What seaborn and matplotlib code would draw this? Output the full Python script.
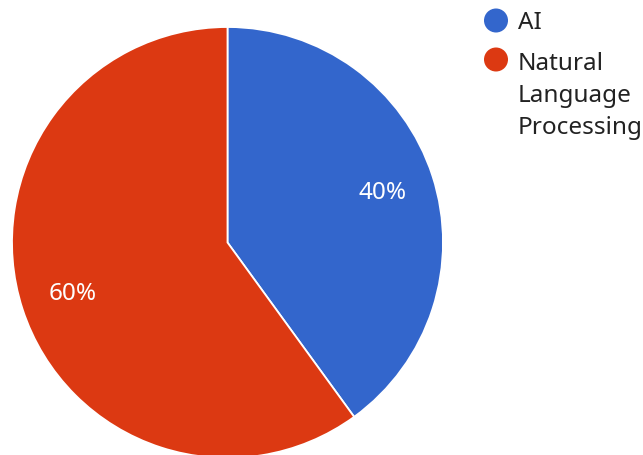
import matplotlib
matplotlib.use("Agg")
import matplotlib.pyplot as plt
from matplotlib.patches import Circle
import seaborn as sns

categories = ["AI", "Natural Language Processing"]
legend_lines = [["AI"], ["Natural", "Language", "Processing"]]
values = [40, 60]
colors = ["#3366CC", "#DC3912"]

sns.set_theme(style="white")
plt.rcParams["font.family"] = ["Noto Sans", "DejaVu Sans"]

W, H = 643, 456
fig = plt.figure(figsize=(W / 100, H / 100), dpi=100)
fig.patch.set_facecolor("white")

# pie axes: centre (227.5, 243.5) px, radius 215.5 px
cx, cy, r = 227.5, 243.5, 215.5
ax = fig.add_axes([(cx - r) / W, (H - (cy + r)) / H, 2 * r / W, 2 * r / H])
wedges, texts, autotexts = ax.pie(
    values,
    colors=sns.color_palette(colors),
    startangle=90,
    counterclock=False,
    autopct="%1.0f%%",
    pctdistance=0.757,
    radius=1.0,
    wedgeprops=dict(edgecolor="white", linewidth=1.3),
    textprops=dict(color="white", fontsize=17.5),
)
ax.set_xlim(-1, 1)
ax.set_ylim(-1, 1)
ax.set_aspect("auto")
ax.axis("off")

# legend overlay in pixel coordinates
ov = fig.add_axes([0, 0, 1, 1])
ov.set_xlim(0, W)
ov.set_ylim(H, 0)
ov.axis("off")
circ_y = [21.5, 60.5]
first_baseline = [29, 70]
line_gap = 32
for col, lines, cyy, bl in zip(colors, legend_lines, circ_y, first_baseline):
    ov.add_patch(Circle((496, cyy), 12, color=col, lw=0))
    for i, t in enumerate(lines):
        ov.text(518, bl + i * line_gap, t, fontsize=17.5, color="#222222",
                ha="left", va="baseline")

fig.savefig("out.png", dpi=100, facecolor="white")
